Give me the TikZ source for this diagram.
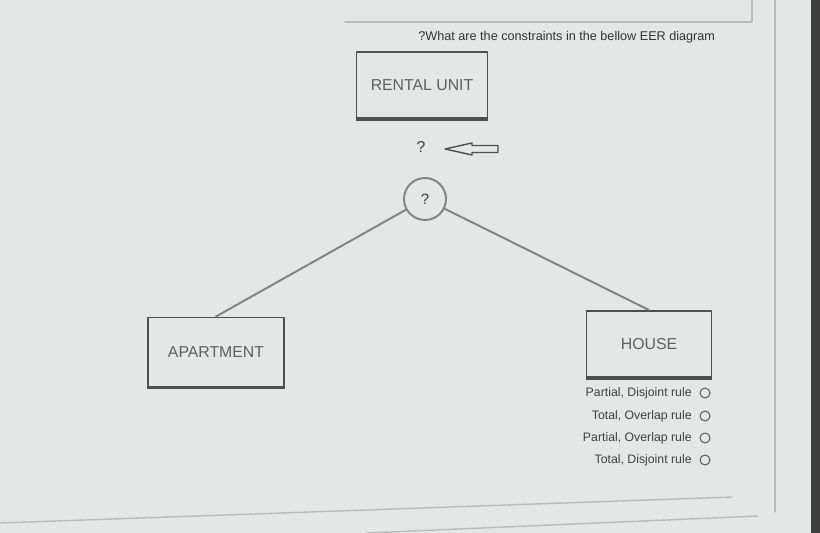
\documentclass[tikz,border=0pt]{standalone}
\usepackage{fontspec}
\setmainfont{Liberation Sans}
\usetikzlibrary{positioning}
\definecolor{screen}{RGB}{228,231,229}
\definecolor{boxline}{RGB}{80,80,80}
\definecolor{boxtext}{RGB}{95,95,95}
\definecolor{linkgray}{RGB}{130,130,130}
\definecolor{framegray}{RGB}{185,187,186}
\begin{document}
\begin{tikzpicture}[x=0.02cm,y=-0.02cm, line join=round, line cap=round,
  entity/.style={draw=boxline, line width=1.1pt, font=\fontsize{9}{10}\selectfont, text=boxtext},
  link/.style={draw=linkgray, line width=1.1pt},
  radio/.style={circle, draw=boxtext, line width=0.6pt, minimum size=0.2cm, inner sep=0pt},
  optext/.style={anchor=east, inner sep=0pt, font=\fontsize{7}{8}\selectfont, text=black!75}]
\def \W{820};
\def \H{533};
% screen
\fill[screen] (0,0) rectangle (\W,\H);
\useasboundingbox (0,0) rectangle (\W,\H);
\draw[framegray, line width=0.8pt] (345,22) -- (752,22) -- (752,0);
\draw[framegray, line width=0.8pt] (775,0) -- (775,512);
\draw[framegray, line width=0.8pt] (0,523) -- (732,497);
\draw[framegray, line width=0.8pt] (366,533) -- (758,516);
\fill[black!75] (811,0) rectangle (\W,\H);
% question
\node[anchor=west, inner sep=0pt, font=\fontsize{7.2}{9}\selectfont, text=black!80] (question) at (418,37) {?What are the constraints in the bellow EER diagram};
% superclass and specialization
\node[entity, minimum width=2.62cm, minimum height=1.32cm] (rental) at (422,85) {RENTAL UNIT};
\node[font=\fontsize{9}{10}\selectfont, text=black!75, inner sep=1pt] (qlabel) at (421,147) {?};
\coordinate (tip) at (445,149);
\draw[boxline, line width=0.8pt] (tip) -- ++(27,-6) -- ++(0,2.5) -- ++(26,0) -- ++(0,7) -- ++(-26,0) -- ++(0,2.5) -- cycle;
\node[circle, draw=linkgray, line width=1.1pt, minimum size=0.84cm, inner sep=0pt, font=\fontsize{8.5}{10}\selectfont, text=black!75] (spec) at (425,199) {?};
% subclasses
\node[entity, minimum width=2.72cm, minimum height=1.38cm] (apartment) at (216,352) {APARTMENT};
\node[entity, minimum width=2.5cm, minimum height=1.32cm] (house) at (649,344) {HOUSE};
\foreach \n in {rental,apartment,house}
  \draw[boxline, line width=1.8pt, line cap=butt] (\n.south west) -- (\n.south east);
\draw[link] (spec) -- (apartment.north);
\draw[link] (spec) -- (house.north);
% answers
\foreach \y/\t [count=\i] in {393/{Partial, Disjoint rule},416/{Total, Overlap rule},438/{Partial, Overlap rule},460/{Total, Disjoint rule}}{
  \node[radio] (radio\i) at (705,\y) {};
  \node[optext] (opt\i) at (692,\y) {\t};
}
\end{tikzpicture}
\end{document}
